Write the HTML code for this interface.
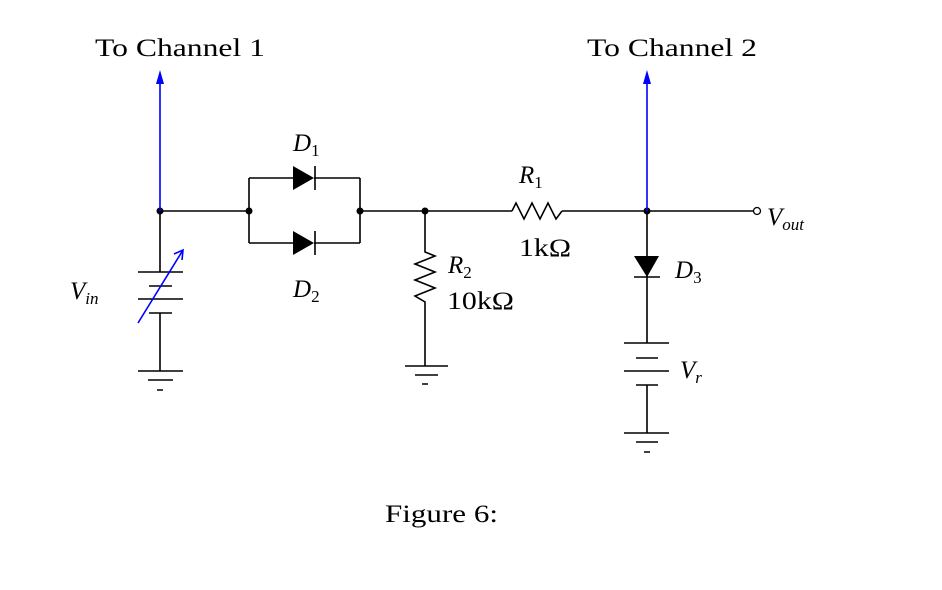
<!DOCTYPE html><html><head><style>body{margin:0;background:#fff}svg{display:block}text{font-family:"Liberation Serif",serif;font-size:25px;fill:#000}.i{font-style:italic}</style></head><body>
<svg width="942" height="590" viewBox="0 0 942 590">
<g stroke="#000" stroke-width="1.6" fill="none">
<path d="M160 211H249M249 178V243M249 178H293M314 178H360M249 243H293M314 243H360M360 178V243M360 211H512M562 211H753"/>
<path d="M512 211l4-8 8 16 8-16 8 16 8-16 8 16 6-8"/>
<path d="M160 211V272M160 313V371M138 272H183M149 286H172M138 299H183M149 313H172M138 371H183M148 380H173M157 390H163"/>
<path d="M425 211V252l10 4-20 8 20 8-20 8 20 8-20 8 10 6V366M405 366H448M415 375H438M422 384H428"/>
<path d="M647 211V343M624 343H669M636 358H658M624 371H669M636 385H658M647 385V433M624 433H669M636 442H658M644 452H650M634 277H660"/>
<path d="M315 166V190M315 231V255"/>
</g>
<g fill="#000"><path d="M293 166L314 178L293 190Z"/><path d="M293 231L314 243L293 255Z"/><path d="M634 256H659L647 277Z"/>
<circle cx="160" cy="211" r="3.5"/><circle cx="249" cy="211" r="3.5"/><circle cx="360" cy="211" r="3.5"/><circle cx="425" cy="211" r="3.5"/><circle cx="647" cy="211" r="3.5"/></g>
<circle cx="757" cy="211" r="3.5" fill="#fff" stroke="#000" stroke-width="1.3"/>
<g stroke="#00f" stroke-width="1.6" fill="none"><path d="M160 211V80M647 211V80M138 323L183 250M174 254L183 250L182 260"/></g>
<g fill="#00f"><path d="M160 70L156 84L164 84Z"/><path d="M647 70L643 84L651 84Z"/></g>
<text x="95" y="56" textLength="170" lengthAdjust="spacingAndGlyphs">To Channel 1</text>
<text x="587" y="56" textLength="170" lengthAdjust="spacingAndGlyphs">To Channel 2</text>
<text x="385" y="522" textLength="113" lengthAdjust="spacingAndGlyphs">Figure 6:</text>
<text x="293" y="151" class="i">D<tspan font-size="17" dy="5" font-style="normal">1</tspan></text>
<text x="293" y="297" class="i">D<tspan font-size="17" dy="5" font-style="normal">2</tspan></text>
<text x="519" y="183" class="i">R<tspan font-size="17" dy="5" font-style="normal">1</tspan></text>
<text x="519" y="256" textLength="52" lengthAdjust="spacingAndGlyphs">1kΩ</text>
<text x="448" y="273" class="i">R<tspan font-size="17" dy="5" font-style="normal">2</tspan></text>
<text x="447" y="309" textLength="67" lengthAdjust="spacingAndGlyphs">10kΩ</text>
<text x="675" y="278" class="i">D<tspan font-size="17" dy="5" font-style="normal">3</tspan></text>
<text x="680" y="378" class="i">V<tspan font-size="17" dy="5">r</tspan></text>
<text x="70" y="299" class="i">V<tspan font-size="17" dy="5">in</tspan></text>
<text x="767" y="225" class="i">V<tspan font-size="17" dy="5">out</tspan></text>
</svg></body></html>
